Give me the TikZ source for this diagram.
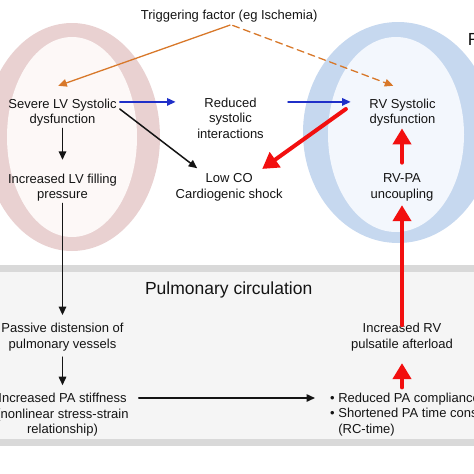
\documentclass[tikz,border=0pt]{standalone}
\usepackage{fontspec}
\setmainfont{Liberation Sans}
\usetikzlibrary{arrows.meta}
\definecolor{lvring}{HTML}{E9D1D1}
\definecolor{lvfill}{HTML}{FDF8F7}
\definecolor{rvring}{HTML}{C6D8EF}
\definecolor{rvfill}{HTML}{F3F7FD}
\definecolor{bandgray}{HTML}{D9D9D9}
\definecolor{panelgray}{HTML}{F5F5F5}
\definecolor{trigorange}{HTML}{D8782A}
\definecolor{interblue}{HTML}{1F2FC8}
\definecolor{rvred}{HTML}{F20F0F}
\begin{document}
\begin{tikzpicture}[x=1pt,y=-1pt,>={Triangle[length=8.5pt,width=7.5pt]}, font=\fontsize{13}{15.5}\selectfont, line join=round, line cap=round,
	box/.style={align=center, inner sep=2pt, text=black!92},
	blk/.style={->, line width=1.5pt, black!92},
	blu/.style={->, line width=1.3pt, interblue},
	org/.style={->, line width=1.3pt, trigorange},
	rd/.style={-{Triangle[length=16pt,width=18pt]}, line width=4pt, rvred}]
			\useasboundingbox (0,0) rectangle (474,474);
			\clip (0,0) rectangle (474,474);
			% ventricles
			\fill[lvring] (72,137) ellipse [x radius=88, y radius=114];
			\fill[lvfill] (72,137) ellipse [x radius=65, y radius=100];
			\fill[rvring] (398,132.5) ellipse [x radius=95, y radius=110.5];
			\fill[rvfill] (396,134.5) ellipse [x radius=68, y radius=97.5];
			% pulmonary circulation
			\fill[bandgray] (0,265) rectangle (474,272);
			\fill[panelgray] (0,272) rectangle (474,439);
			\fill[bandgray] (0,439) rectangle (474,446);
			\node[box, anchor=base, font=\fontsize{17.5}{20}\selectfont] (pulm) at (228.7,294.3) {Pulmonary circulation};
			\node[box, anchor=base west, inner sep=0pt, font=\fontsize{17.5}{20}\selectfont] (rvtitle) at (467.7,45.7) {RV};
			\node[box, anchor=base] (trig) at (229.2,19) {Triggering factor (eg Ischemia)};
			\node[box] (lvsd) at (62.5,112.4) {Severe LV Systolic\\dysfunction};
			\node[box] (rsi) at (230.5,117.9) {Reduced\\systolic\\interactions};
			\node[box] (rvsd) at (402.5,112.4) {RV Systolic\\dysfunction};
			\node[box] (lvfp) at (62.5,187.4) {Increased LV filling\\pressure};
			\node[box] (lowco) at (229.2,187.4) {Low CO\\Cardiogenic shock};
			\node[box] (rvpa) at (402,187.4) {RV-PA\\uncoupling};
			\node[box] (pdpv) at (62.5,337.1) {Passive distension of\\pulmonary vessels};
			\node[box] (irv) at (402,337.1) {Increased RV\\pulsatile afterload};
			\node[box] (ipa) at (62.5,415) {Increased PA stiffness\\(nonlinear stress-strain\\relationship)};
			\node[box, align=left, anchor=west] (rcbul) at (328,414.2) {• Reduced PA compliance\\• Shortened PA time constant\\\phantom{• }(RC-time)};
			% triggering factor
			\draw[org] ([shift={(0.8,1.2)}]trig.south) -- ([shift={(-4.2,-10.6)}]lvsd.north);
			\draw[org, dash pattern=on 7pt off 4.5pt] ([shift={(3.5,1.5)}]trig.south) -- ([shift={(-9.2,-10.6)}]rvsd.north);
			% ventricular interaction
			\draw[blu] ([shift={(1,-10.5)}]lvsd.east) -- ([shift={(-19.5,-16)}]rsi.west);
			\draw[blu] ([shift={(22,-16)}]rsi.east) -- ([shift={(-16.6,-10.5)}]rvsd.west);
			\draw[blk] ([shift={(1,-3.4)}]lvsd.east) -- ([shift={(-32,-3.3)}]lowco.north);
			\draw[rd] ([shift={(-21.3,-3.4)}]rvsd.west) -- ([shift={(33,-2.6)}]lowco.north);
			% left side
			\draw[blk, shorten >=11.6pt] (lvsd) -- (lvfp);
			\draw[blk, shorten >=6pt] (lvfp) -- (pdpv);
			\draw[blk, shorten <=4pt, shorten >=6pt] (pdpv) -- (ipa);
			\draw[blk, shorten <=8pt, shorten >=13pt] ([yshift=17pt]ipa.east) -- ([yshift=17pt]ipa.east -| rcbul.west);
			% right side
			\draw[rd, shorten <=3pt, shorten >=10pt] (rcbul.north -| irv.south) -- (irv.south);
			\draw[rd, shorten <=-4pt, shorten >=2pt] (irv) -- (rvpa);
			\draw[rd, shorten <=9pt] (rvpa) -- (rvpa |- rvsd.south);
		\end{tikzpicture}
\end{document}
